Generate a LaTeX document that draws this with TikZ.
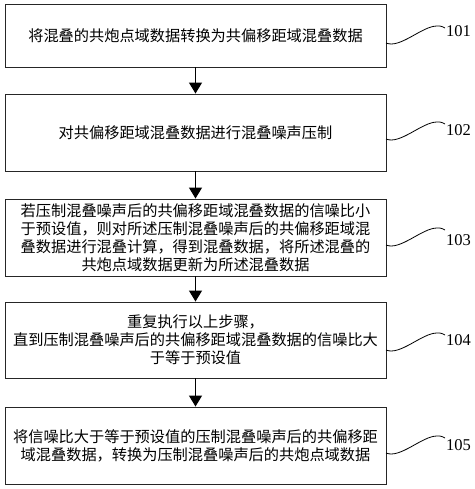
\documentclass[tikz,border=0pt]{standalone}
\usepackage{fontspec}
\setmainfont{Liberation Serif}
\newfontfamily\cjk{Noto Sans CJK SC}
\usetikzlibrary{arrows.meta}
\begin{document}
\begin{tikzpicture}[x=1pt,y=-1pt,
  stepbox/.style={draw=black!85,line width=0.9pt,minimum width=381pt,align=center,inner sep=0pt,
     font=\cjk\fontsize{15.2}{18}\selectfont},
  flow/.style={draw=black,line width=1.2pt,-{Triangle[width=13pt,length=11pt]}},
  lbl/.style={font=\fontsize{16.5}{18}\selectfont,anchor=west,inner sep=0pt},
  wave/.style={draw=black,line width=0.8pt}]
\useasboundingbox (0,0) rectangle (474,489);
\node[stepbox,minimum height=63pt] (b1) at (195.5,35.5) {将混叠的共炮点域数据转换为共偏移距域混叠数据};
\node[stepbox,minimum height=77pt] (b2) at (195.5,132.5) {对共偏移距域混叠数据进行混叠噪声压制};
\node[stepbox,minimum height=77pt] (b3) at (195.5,237.5) {若压制混叠噪声后的共偏移距域混叠数据的信噪比小\\于预设值，则对所述压制混叠噪声后的共偏移距域混\\叠数据进行混叠计算，得到混叠数据，将所述混叠的\\共炮点域数据更新为所述混叠数据};
\node[stepbox,minimum height=76pt] (b4) at (195.5,340) {重复执行以上步骤，\\直到压制混叠噪声后的共偏移距域混叠数据的信噪比大\\于等于预设值};
\node[stepbox,minimum height=77pt] (b5) at (195.5,445.5) {将信噪比大于等于预设值的压制混叠噪声后的共偏移距\\域混叠数据，转换为压制混叠噪声后的共炮点域数据};
\draw[flow] (b1) -- (b2);
\draw[flow] (b2) -- (b3);
\draw[flow] (b3) -- (b4);
\draw[flow] (b4) -- (b5);
\node[lbl] (l1) at (446,31) {101};
\node[lbl] (l2) at (446,130) {102};
\node[lbl] (l3) at (446,240) {103};
\node[lbl] (l4) at (446,340) {104};
\node[lbl] (l5) at (446,445) {105};
\foreach \b/\l/\y in {b1/l1/43, b2/l2/139, b3/l3/245, b4/l4/350, b5/l5/453}{
  \coordinate (s\b) at (386,\y);
  \coordinate (t\b) at (437,{\y-17});
  \draw[wave] (s\b) .. controls (400,{\y+6}) and (422,{\y-17}) .. (t\b) .. controls (441,{\y-17}) .. (445,{\y-15});
}
\end{tikzpicture}
\end{document}
